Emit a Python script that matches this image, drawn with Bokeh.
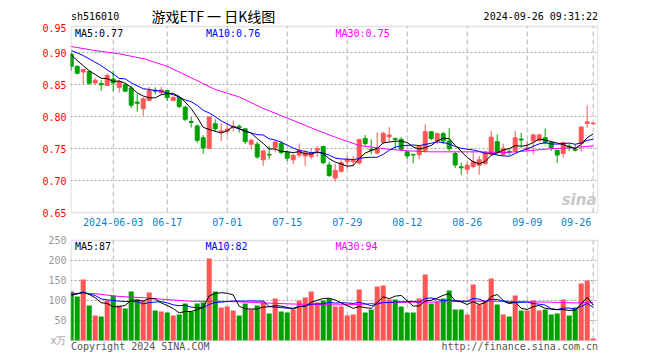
import pandas as pd
from bokeh.plotting import figure
from bokeh.layouts import column
from bokeh.models import FixedTicker, Label, ColumnDataSource, Range1d, BoxAnnotation
from bokeh.embed import file_html
from bokeh.resources import INLINE

# ---------------- data ----------------
symbol = "sh516010"
chart_title = "游戏ETF 一 日K线图"
stamp = "2024-09-26 09:31:22"
copyright_text = "Copyright 2024 SINA.COM"
site_text = "http://finance.sina.com.cn"
vol_unit = "x万"

holidays = ["2024-06-10", "2024-09-16", "2024-09-17"]
dates = [d.strftime("%Y-%m-%d") for d in pd.bdate_range("2024-05-23", "2024-09-26")
         if d.strftime("%Y-%m-%d") not in holidays]

tick_dates = ["2024-06-03", "2024-06-17", "2024-07-01", "2024-07-15", "2024-07-29",
              "2024-08-12", "2024-08-26", "2024-09-09", "2024-09-26"]
tick_labels = ["2024-06-03", "06-17", "07-01", "07-15", "07-29",
               "08-12", "08-26", "09-09", "09-26"]

opens = [0.898, 0.879, 0.870, 0.871, 0.853, 0.852, 0.849, 0.859, 0.846, 0.850,
         0.845, 0.823, 0.8125, 0.8255, 0.8415, 0.8375, 0.841, 0.8255, 0.830, 0.815,
         0.7925, 0.7855, 0.767, 0.7505, 0.789, 0.776, 0.7775, 0.783, 0.785, 0.781,
         0.757, 0.757, 0.7325, 0.741, 0.7515, 0.758, 0.744, 0.7325, 0.740, 0.7385,
         0.7375, 0.7475, 0.7535, 0.7245, 0.704, 0.7145, 0.7295, 0.7295, 0.7275, 0.766,
         0.749, 0.743, 0.760, 0.7685, 0.766, 0.7645, 0.745, 0.741, 0.7405, 0.7475,
         0.7765, 0.762, 0.7735, 0.762, 0.7425, 0.7215, 0.7175, 0.722, 0.724, 0.7265,
         0.741, 0.761, 0.741, 0.7455, 0.7465, 0.765, 0.749, 0.762, 0.763, 0.767,
         0.7595, 0.7475, 0.7425, 0.754, 0.749, 0.758, 0.7895, 0.789]
highs = [0.900, 0.880, 0.874, 0.872, 0.861, 0.857, 0.868, 0.872, 0.858, 0.8525,
         0.848, 0.836, 0.8305, 0.847, 0.846, 0.847, 0.842, 0.8315, 0.8315, 0.817,
         0.7995, 0.788, 0.771, 0.800, 0.796, 0.790, 0.789, 0.794, 0.788, 0.782,
         0.766, 0.761, 0.747, 0.754, 0.762, 0.762, 0.7475, 0.742, 0.758, 0.7475,
         0.7505, 0.754, 0.7545, 0.7295, 0.7265, 0.732, 0.7385, 0.7385, 0.7645, 0.7715,
         0.7645, 0.7755, 0.7765, 0.7835, 0.767, 0.768, 0.746, 0.7415, 0.756, 0.788,
         0.777, 0.775, 0.7765, 0.782, 0.745, 0.728, 0.728, 0.7455, 0.7385, 0.7465,
         0.7775, 0.7725, 0.758, 0.7505, 0.7775, 0.7745, 0.762, 0.7735, 0.7735, 0.7815,
         0.762, 0.748, 0.761, 0.758, 0.757, 0.7845, 0.8175, 0.7915]
lows = [0.872, 0.866, 0.851, 0.850, 0.850, 0.841, 0.848, 0.840, 0.838, 0.8385,
        0.8135, 0.808, 0.8015, 0.825, 0.835, 0.835, 0.8245, 0.8245, 0.8135, 0.793,
        0.783, 0.759, 0.742, 0.750, 0.776, 0.762, 0.771, 0.777, 0.775, 0.757,
        0.749, 0.734, 0.723, 0.733, 0.744, 0.741, 0.7305, 0.7255, 0.736, 0.723,
        0.7335, 0.737, 0.7255, 0.7055, 0.6985, 0.7125, 0.719, 0.723, 0.725, 0.7535,
        0.741, 0.741, 0.757, 0.761, 0.7515, 0.7465, 0.7335, 0.727, 0.7335, 0.7435,
        0.763, 0.757, 0.757, 0.746, 0.7195, 0.709, 0.710, 0.7195, 0.709, 0.7245,
        0.7395, 0.740, 0.7385, 0.740, 0.7435, 0.7515, 0.746, 0.741, 0.7595, 0.757,
        0.7465, 0.728, 0.736, 0.7465, 0.7455, 0.7455, 0.783, 0.787]
closes = [0.879, 0.868, 0.874, 0.8525, 0.857, 0.850, 0.8645, 0.853, 0.855, 0.840,
          0.818, 0.821, 0.828, 0.841, 0.840, 0.842, 0.830, 0.8305, 0.816, 0.796,
          0.791, 0.763, 0.751, 0.7995, 0.781, 0.778, 0.7805, 0.785, 0.783, 0.761,
          0.763, 0.737, 0.7465, 0.740, 0.7605, 0.744, 0.735, 0.7395, 0.7475, 0.7435,
          0.7425, 0.750, 0.728, 0.708, 0.716, 0.728, 0.733, 0.732, 0.7645, 0.758,
          0.7475, 0.7505, 0.774, 0.7715, 0.7645, 0.749, 0.7385, 0.740, 0.754, 0.7765,
          0.766, 0.7735, 0.762, 0.750, 0.7245, 0.720, 0.724, 0.7295, 0.7325, 0.744,
          0.768, 0.744, 0.7505, 0.744, 0.767, 0.7635, 0.7515, 0.7715, 0.7715, 0.7595,
          0.7515, 0.740, 0.7595, 0.7525, 0.7475, 0.784, 0.792, 0.790]
volumes = [122.5, 110, 152.5, 87.5, 62.5, 60, 100, 112.5, 87.5, 80,
           122.5, 102.5, 100, 120, 75, 72.5, 70, 62.5, 65, 92.5,
           72.5, 92.5, 95, 205, 122.5, 82.5, 85, 75, 62.5, 92.5,
           77.5, 87.5, 97.5, 67.5, 105, 72.5, 70, 77.5, 100, 107.5,
           122.5, 95, 100, 104, 85, 85, 62.5, 65, 127.5, 70,
           77.5, 135, 137.5, 102.5, 102.5, 85, 70, 70, 105, 165,
           92.5, 97.5, 105, 125, 77.5, 77.5, 65, 140, 90, 100,
           155, 90, 65, 60, 112.5, 75, 75, 100, 75, 77.5,
           65, 67.5, 102.5, 62.5, 82.5, 142.5, 150, 5]

# moving-average values at the left edge (they need history before the window)
ma5_head = [0.897, 0.888, 0.880, 0.872]
ma10_head = [0.9036, 0.900, 0.8958, 0.8906, 0.8853, 0.880, 0.8734, 0.867, 0.860]
ma30_every4 = [0.910, 0.9035, 0.8985, 0.891, 0.879, 0.861, 0.8427, 0.831, 0.813, 0.798,
               0.7826, 0.768, 0.755, 0.750, 0.7466, 0.745, 0.745, 0.745, 0.7437, 0.7464,
               0.750, 0.7516, 0.7545]
vma5_head = [115, 116.7, 120.8, 115]
vma10_head = [112.5, 116.7, 120.8, 116.7, 112.5, 104, 101.7, 100, 98.3]
vma30_every4 = [118, 117, 110, 107, 102.5, 98, 98, 96.7, 94, 91.7,
                90, 89, 90, 95, 95.8, 96, 97.5, 98.3, 98, 96.7,
                95.8, 94, 95]

price_ticks = [0.65, 0.70, 0.75, 0.80, 0.85, 0.90]
price_top_label = "0.95"
vol_ticks = [0, 50, 100, 150, 200, 250]

ma_labels_price = ["MA5:0.77", "MA10:0.76", "MA30:0.75"]
ma_labels_vol = ["MA5:87", "MA10:82", "MA30:94"]
ma_colors = ["#000000", "#0000ff", "#ff00ff"]

# ---------------- derived ----------------
n = len(dates)
idx = list(range(n))
tick_idx = [dates.index(d) for d in tick_dates]

RED, GREEN = "#ff5555", "#00a000"
colors = [RED if c >= o else GREEN for o, c in zip(opens, closes)]

cs = pd.Series(closes)
ma5 = cs.rolling(5).mean().tolist()
ma10 = cs.rolling(10).mean().tolist()
ma5[:len(ma5_head)] = ma5_head
ma10[:len(ma10_head)] = ma10_head
ma30_x = list(range(0, n, 4)) + [n - 1]

vs = pd.Series(volumes)
vma5 = vs.rolling(5).mean().tolist()
vma10 = vs.rolling(10).mean().tolist()
vma5[:len(vma5_head)] = vma5_head
vma10[:len(vma10_head)] = vma10_head

src = ColumnDataSource(dict(
    x=idx, o=opens, h=highs, l=lows, c=closes,
    top=[max(a, b) for a, b in zip(opens, closes)],
    bottom=[min(a, b) for a, b in zip(opens, closes)],
    v=volumes, color=colors, ma5=ma5, ma10=ma10, vma5=vma5, vma10=vma10))

# ---------------- layout (page pixels) ----------------
MONO = "DejaVu Sans Mono"
CJK = "Noto Sans CJK SC"
W = 660
LEFT, FRAME_W = 70, 528
RIGHT = W - LEFT - FRAME_W
PX0, PXS = 70.7, 6.0                  # candle i sits at page x 70.7 + 6 i
X_RANGE = Range1d((LEFT - PX0) / PXS, (LEFT + FRAME_W - PX0) / PXS)

P_TOP, P_BOT = 0, 232                 # price figure band
V_TOP, V_BOT = 232, 358               # volume figure band
PRICE_BOX = (26, 212)                 # page y of the 0.95-ish top and of 0.65
PRICE_PX_PER_UNIT = 638.5
VOL_BOX = (240, 340)                  # page y of 250 and of 0
VOL_PX_PER_UNIT = 0.4


def ix(page_x):
    return (page_x - PX0) / PXS


def py(page_y):
    return price_ticks[0] + (PRICE_BOX[1] - page_y) / PRICE_PX_PER_UNIT


def vy(page_y):
    return (VOL_BOX[1] - page_y) / VOL_PX_PER_UNIT


price_top = py(PRICE_BOX[0])
price_top_tick = py(PRICE_BOX[0] + 1.5)

GRID_V = dict(line_color="#b4b4b4", line_dash="5 3", line_width=1)
BORDER = "#a0a0a0"


def base_fig(height, y_range):
    p = figure(width=W, height=height, min_border_left=LEFT, min_border_right=RIGHT,
               min_border_top=0, min_border_bottom=0, title=None,
               x_range=X_RANGE, y_range=y_range,
               output_backend="svg", toolbar_location=None)
    p.outline_line_color = None
    p.xaxis.visible = False
    p.xgrid.visible = False
    p.ygrid.grid_line_color = "#a8a8a8"
    p.ygrid.grid_line_dash = "2 2"
    p.ygrid.grid_line_width = 1
    ax = p.yaxis[0]
    ax.major_tick_in = 0
    ax.major_tick_out = 0
    ax.minor_tick_in = 0
    ax.minor_tick_out = 0
    ax.axis_line_color = None
    ax.major_label_text_font = MONO
    ax.major_label_text_font_size = "10px"
    ax.major_label_standoff = 4
    return p


def label(p, text, x, y, color="black", align="left", font=MONO, size="10px", **kw):
    p.add_layout(Label(x=x, y=y, text=text, text_color=color, text_align=align,
                       text_baseline="middle", text_font=font, text_font_size=size, **kw))


# ---------------- price figure (header + candles + dates) ----------------
p1 = base_fig(P_BOT - P_TOP, Range1d(py(P_BOT), py(P_TOP)))
p1.yaxis.ticker = FixedTicker(ticks=price_ticks + [price_top_tick])
p1.yaxis.major_label_overrides = {**{t: f"{t:.2f}" for t in price_ticks},
                                  price_top_tick: price_top_label}
p1.yaxis.major_label_text_color = "#ff0000"
p1.ygrid.ticker = FixedTicker(ticks=price_ticks[1:])

p1.segment(x0=tick_idx, y0=price_ticks[0], x1=tick_idx, y1=price_top, **GRID_V)
p1.segment(x0="x", y0="l", x1="x", y1="h", line_color="color", line_width=1, source=src)
p1.vbar(x="x", width=0.66, top="top", bottom="bottom", fill_color="color",
        line_color="color", line_width=1, source=src)
p1.line(x=ma30_x, y=ma30_every4, line_color=ma_colors[2], line_width=1)
p1.line(x="x", y="ma10", line_color=ma_colors[1], line_width=1, source=src)
p1.line(x="x", y="ma5", line_color=ma_colors[0], line_width=1, source=src)
p1.add_layout(BoxAnnotation(bottom=price_ticks[0], top=price_top, left=ix(70.5), right=ix(597.5),
                            fill_alpha=0, line_color=BORDER, line_width=1.5))

label(p1, symbol, ix(70.5), py(16))
label(p1, chart_title, ix(151), py(15.5), font=CJK, size="14px")
label(p1, stamp, ix(597.5), py(16), align="right")
for t, xx, col in zip(ma_labels_price, [74.5, 205.5, 335], ma_colors):
    label(p1, t, ix(xx), py(33), color=col)
label(p1, "sina", ix(596), py(199), color="#c8c8c8", align="right", font="DejaVu Sans",
      size="15px", text_font_style="bold italic")
for i, (ti, tl) in enumerate(zip(tick_idx, tick_labels)):
    last = i == len(tick_idx) - 1
    label(p1, tl, ti, py(221.7), color="#0a7fd0", align="right" if last else "center",
          x_offset=-2 if last else 0)

# ---------------- volume figure (bars + footer) ----------------
p2 = base_fig(V_BOT - V_TOP, Range1d(vy(V_BOT), vy(V_TOP)))
p2.yaxis.ticker = FixedTicker(ticks=vol_ticks)
p2.yaxis.major_label_overrides = {vol_ticks[0]: vol_unit}
p2.yaxis.major_label_text_color = "#999999"
p2.ygrid.ticker = FixedTicker(ticks=vol_ticks[1:-1])

p2.segment(x0=tick_idx, y0=vol_ticks[0], x1=tick_idx, y1=vol_ticks[-1], **GRID_V)
p2.vbar(x="x", width=0.84, top="v", bottom=0, fill_color="color", line_color=None, source=src)
p2.line(x=ma30_x, y=vma30_every4, line_color=ma_colors[2], line_width=1)
p2.line(x="x", y="vma10", line_color=ma_colors[1], line_width=1, source=src)
p2.line(x="x", y="vma5", line_color=ma_colors[0], line_width=1, source=src)
p2.add_layout(BoxAnnotation(bottom=vol_ticks[0], top=vol_ticks[-1], left=ix(70.5), right=ix(597.5),
                            fill_alpha=0, line_color=BORDER, line_width=1.5))

for t, xx, col in zip(ma_labels_vol, [74.5, 205, 335], ma_colors):
    label(p2, t, ix(xx), vy(246), color=col)
label(p2, copyright_text, ix(70.5), vy(346), color="#555555")
label(p2, site_text, ix(597.5), vy(346), color="#555555", align="right")

layout = column(p1, p2, spacing=0)
open("out.html", "w").write(file_html(layout, INLINE))
